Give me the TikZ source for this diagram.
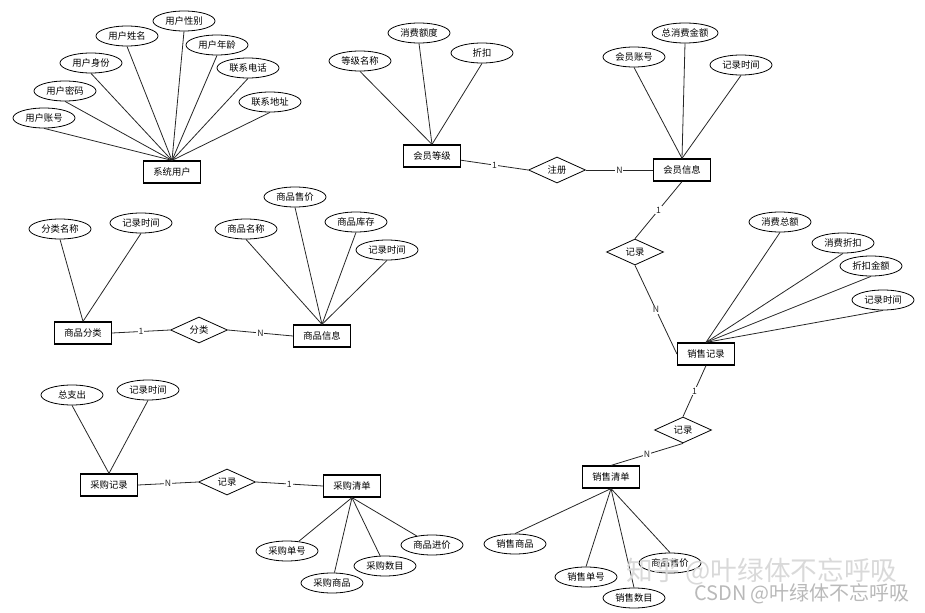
\documentclass[tikz,border=0pt]{standalone}
\usepackage{fontspec}
\setmainfont{Noto Sans CJK SC}
\usetikzlibrary{shapes.geometric}
\tikzset{
  font=\fontsize{7}{8}\selectfont,
  % Entity box
  entity/.style={draw, line width=0.9pt, shape=rectangle, fill=white,
    minimum width=42.75pt, minimum height=16.5pt, inner sep=0pt},
  % Attribute ellipse
  attr/.style={draw, line width=0.6pt, shape=ellipse, fill=white,
    minimum width=46.5pt, minimum height=15pt, inner sep=0pt},
  % Relationship diamond
  rel/.style={draw, line width=0.6pt, shape=diamond, aspect=2.2, fill=white,
    minimum width=42.75pt, minimum height=19.5pt, inner sep=0pt},
  % Connector
  link/.style={line width=0.6pt, black!85},
  % Cardinality on a connector
  card/.style={fill=white, inner sep=0.6pt, font=\fontsize{6.5}{7}\selectfont},
  % Watermark
  wmark/.style={inner sep=0pt},
}

\begin{document}
\begin{tikzpicture}[x=0.75pt, y=-0.75pt]

    \useasboundingbox (0,0) rectangle (925,613);

    % System user
    \node[entity] (user) at (172,172) {系统用户};
    \node[attr] (u1) at (44,118) {用户账号};
    \node[attr] (u2) at (65,91) {用户密码};
    \node[attr] (u3) at (91,63) {用户身份};
    \node[attr] (u4) at (127,36) {用户姓名};
    \node[attr] (u5) at (184,21) {用户性别};
    \node[attr] (u6) at (217,45) {用户年龄};
    \node[attr] (u7) at (248,68) {联系电话};
    \node[attr] (u8) at (270,102) {联系地址};

    % Member level and member
    \node[entity] (level) at (432,156) {会员等级};
    \node[attr] (l1) at (360,61) {等级名称};
    \node[attr] (l2) at (419,33) {消费额度};
    \node[attr] (l3) at (482,53) {折扣};
    \node[rel] (reg) at (557,170) {注册};

    \node[entity] (member) at (682,170) {会员信息};
    \node[attr] (m1) at (634,57) {会员账号};
    \node[attr] (m2) at (685,33) {总消费金额};
    \node[attr] (m3) at (741,65) {记录时间};
    \node[rel] (rec1) at (635,252) {记录};

    % Sales
    \node[entity] (sale) at (706,354) {销售记录};
    \node[attr] (s1) at (780,222) {消费总额};
    \node[attr] (s2) at (843,243) {消费折扣};
    \node[attr] (s3) at (871,266) {折扣金额};
    \node[attr] (s4) at (883,300) {记录时间};
    \node[rel] (rec2) at (683,430) {记录};

    \node[entity] (saleitem) at (611,477) {销售清单};
    \node[attr] (si1) at (515,544) {销售商品};
    \node[attr] (si2) at (586,577) {销售单号};
    \node[attr] (si3) at (634,598) {销售数目};
    \node[attr] (si4) at (670,563) {商品售价};

    % Goods
    \node[entity] (cat) at (83,333) {商品分类};
    \node[attr] (c1) at (60,229) {分类名称};
    \node[attr] (c2) at (141,223) {记录时间};
    \node[rel] (cls) at (199,330) {分类};

    \node[entity] (goods) at (322,336) {商品信息};
    \node[attr] (g1) at (246,229) {商品名称};
    \node[attr] (g2) at (295,197) {商品售价};
    \node[attr] (g3) at (356,222) {商品库存};
    \node[attr] (g4) at (387,250) {记录时间};

    % Purchases
    \node[entity] (buy) at (109,485) {采购记录};
    \node[attr] (b1) at (72,395) {总支出};
    \node[attr] (b2) at (148,390) {记录时间};
    \node[rel] (rec3) at (227,482) {记录};

    \node[entity] (buyitem) at (352,486) {采购清单};
    \node[attr] (bi1) at (287,551) {采购单号};
    \node[attr] (bi2) at (332,583) {采购商品};
    \node[attr] (bi3) at (385,566) {采购数目};
    \node[attr] (bi4) at (432,545) {商品进价};

    % Attribute lines
    \foreach \i in {1,...,8} \draw[link] (u\i.south) -- (user.north);
    \foreach \i in {1,2,3} \draw[link] (l\i.south) -- (level.north);
    \foreach \i in {1,2,3} \draw[link] (m\i.south) -- (member.north);
    \foreach \i in {1,...,4} \draw[link] (s\i.south) -- (sale.north);
    \foreach \i in {1,...,4} \draw[link] (si\i.north) -- (saleitem.south);
    \foreach \i in {1,2} \draw[link] (c\i.south) -- (cat.north);
    \foreach \i in {1,...,4} \draw[link] (g\i.south) -- (goods.north);
    \foreach \i in {1,2} \draw[link] (b\i.south) -- (buy.north);
    \foreach \i in {1,...,4} \draw[link] (bi\i) -- (buyitem.south);

    % Relationship lines
    \draw[link] (level) -- node[card] {1} (reg.west);
    \draw[link] (reg.east) -- node[card] {N} (member.west);
    \draw[link] (member.south) -- node[card] {1} (rec1.north);
    \draw[link] (rec1.south) -- node[card] {N} (sale.west);
    \draw[link] (sale.south) -- node[card] {1} (rec2.north);
    \draw[link] (rec2.south) -- node[card] {N} (saleitem.north);
    \draw[link] (cat.east) -- node[card] {1} (cls.west);
    \draw[link] (cls.east) -- node[card] {N} (goods.west);
    \draw[link] (buy.east) -- node[card] {N} (rec3.west);
    \draw[link] (rec3.east) -- node[card] {1} (buyitem.west);

    % Watermarks
    \node[wmark, text=gray!30, font=\fontsize{20}{20}\selectfont] (wm1) at (762,572) {知乎 @叶绿体不忘呼吸};
    \node[wmark, text=gray!55, font=\fontsize{15}{15}\selectfont] (wm2) at (802,594) {CSDN @叶绿体不忘呼吸};
  \end{tikzpicture}
\end{document}
